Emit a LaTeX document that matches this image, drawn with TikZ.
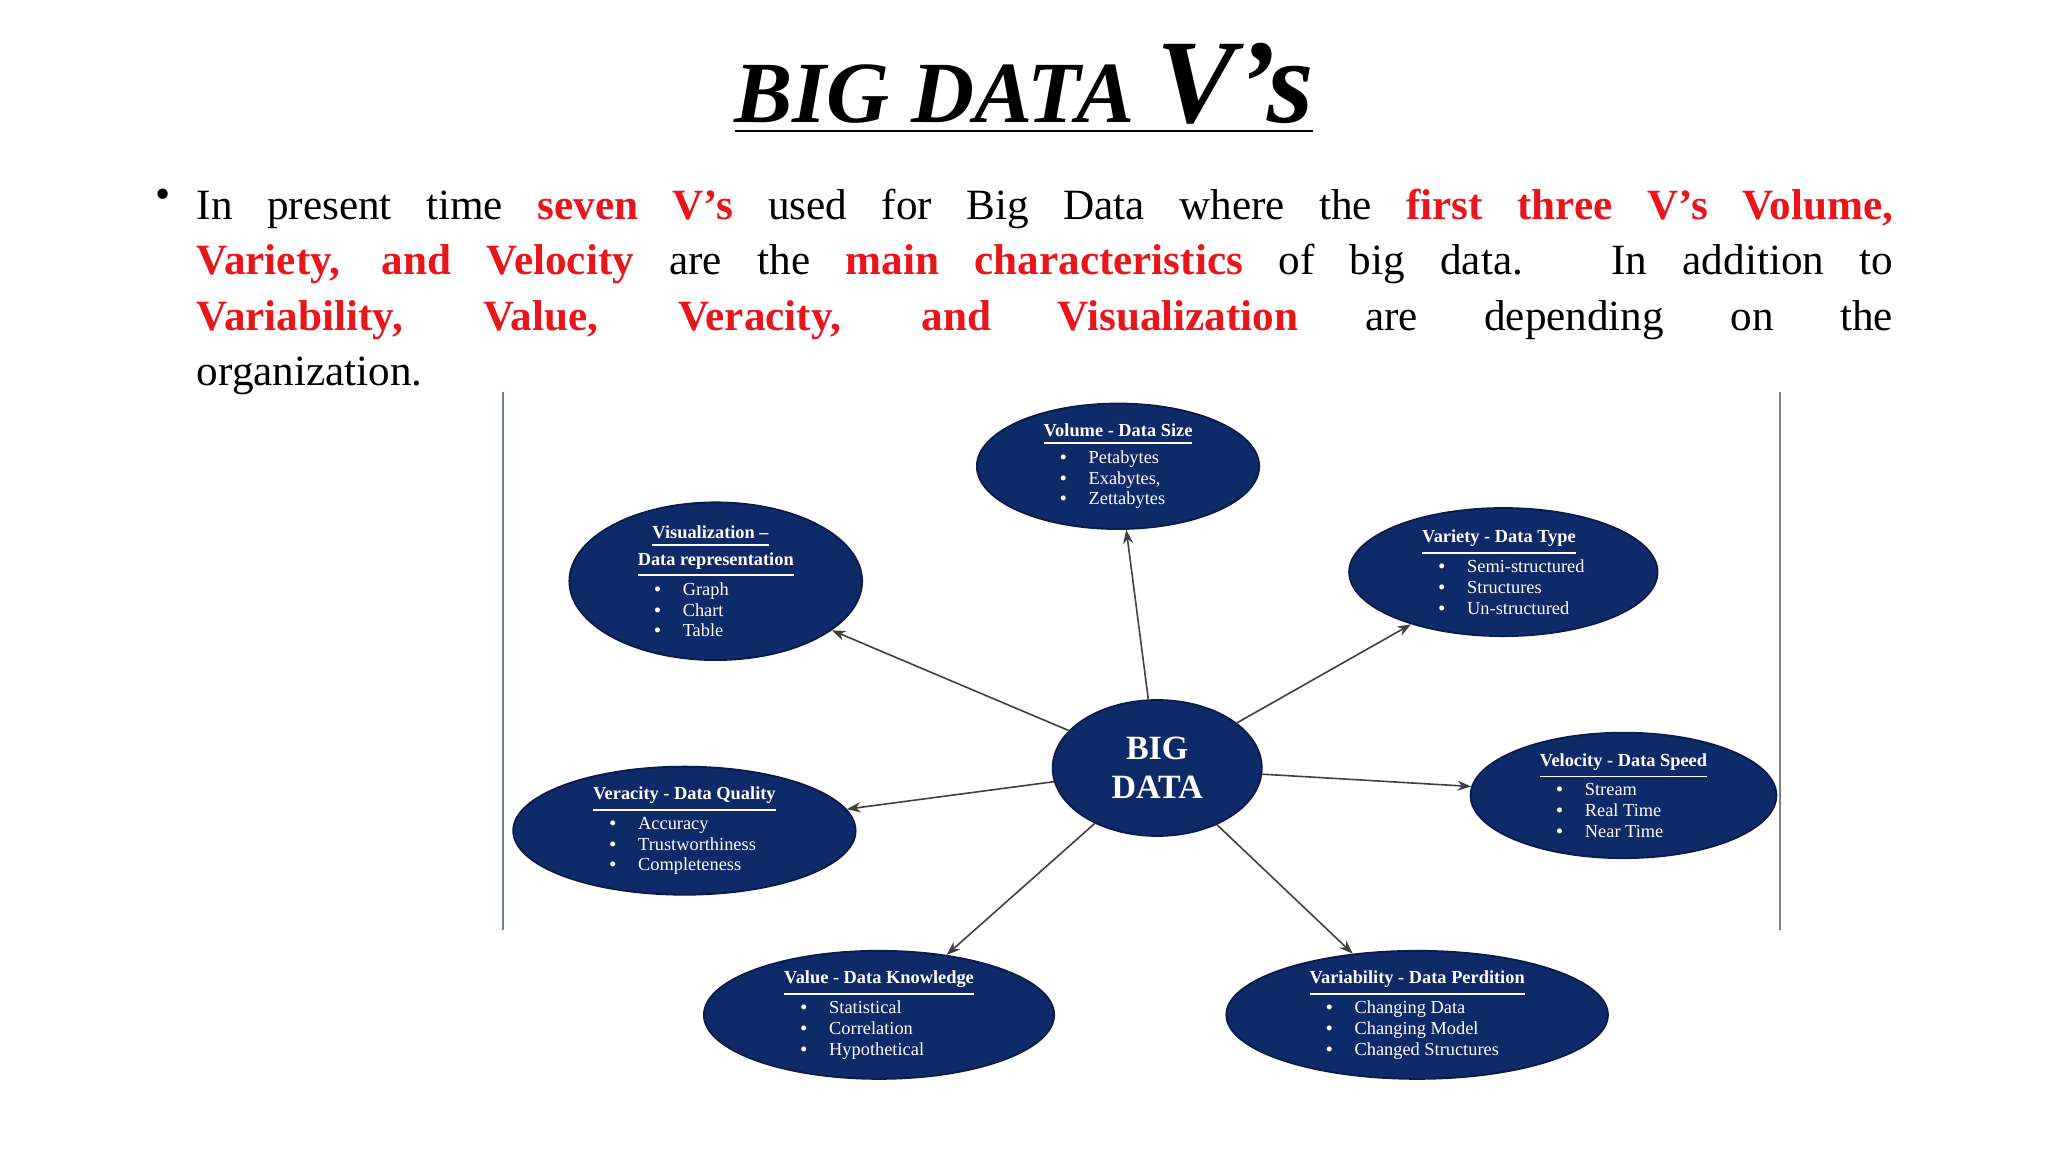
\documentclass[tikz,border=0pt]{standalone}
\usepackage{fontspec}
\setmainfont{Liberation Serif}
\usetikzlibrary{shapes.geometric,arrows.meta}
\definecolor{navy}{HTML}{0F2A68}
\definecolor{vred}{HTML}{E8161B}
\tikzset{
  vell/.style={ellipse, fill=navy, draw=navy!70!black, text=white, inner sep=0pt,
    font=\fontsize{4}{4.5}\selectfont\bfseries, align=left},
  conn/.style={draw=black!75, line width=0.35pt, -{Stealth[length=3pt,width=2.2pt]}}
}
\newcommand{\hd}[1]{\underline{#1}}
\newcommand{\bl}[1]{\hspace*{0.9em}\textbullet\hspace{1.2em}\mdseries #1}
\newcommand{\rd}[1]{\textcolor{vred}{\textbf{#1}}}
\begin{document}
\begin{tikzpicture}[x=0.01cm,y=-0.01cm]
\useasboundingbox (0,0) rectangle (1568,882);
% title
\node[font=\fontsize{19}{22}\selectfont\bfseries\itshape] (title) at (784,68)
  {\underline{BIG DATA {\fontsize{26}{26}\selectfont V’s}}};
% paragraph
\node[anchor=north west, inner sep=0pt, font=\fontsize{9.4}{12.05}\selectfont, align=left] (par) at (150,144)
 {\makebox[12.98cm][s]{In present time \rd{seven V’s} used for Big Data where the \rd{first three V’s Volume,}}\\
  \makebox[12.98cm][s]{\rd{Variety, and Velocity} are the \rd{main characteristics} of big data. In addition to}\\
  \makebox[12.98cm][s]{\rd{Variability, Value, Veracity, and Visualization} are depending on the}\\
  organization.};
\node[anchor=north west, inner sep=0pt, font=\fontsize{9.4}{12}\selectfont] (bul) at (118,144) {\textbullet};
% frame lines
\draw[navy!60, line width=0.5pt] (385,300) coordinate (la) -- (385,712) coordinate (lb);
\draw[black!50, line width=0.5pt] (1363,300) coordinate (ra) -- (1363,712) coordinate (rb);
% ellipses
\node[vell, minimum width=1.6cm, minimum height=1.04cm, align=center,
  font=\fontsize{7.4}{8.4}\selectfont\bfseries] (bd) at (886,588) {BIG\\DATA};
\node[vell, minimum width=2.16cm, minimum height=0.96cm] (vol) at (856,357)
 {\hd{Volume - Data Size}\\\bl{Petabytes}\\\bl{Exabytes,}\\\bl{Zettabytes}};
\node[vell, minimum width=2.24cm, minimum height=1.12cm] (vis) at (548,445)
 {\hspace*{0.8em}\hd{Visualization --}\\\hd{Data representation}\\\bl{Graph}\\\bl{Chart}\\\bl{Table}};
\node[vell, minimum width=2.36cm, minimum height=0.98cm] (var) at (1151,438)
 {\hd{Variety - Data Type}\\\bl{Semi-structured}\\\bl{Structures}\\\bl{Un-structured}};
\node[vell, minimum width=2.34cm, minimum height=0.96cm] (vel) at (1243,609)
 {\hd{Velocity - Data Speed}\\\bl{Stream}\\\bl{Real Time}\\\bl{Near Time}};
\node[vell, minimum width=2.62cm, minimum height=0.98cm] (ver) at (524,636)
 {\hd{Veracity - Data Quality}\\\bl{Accuracy}\\\bl{Trustworthiness}\\\bl{Completeness}};
\node[vell, minimum width=2.68cm, minimum height=0.98cm] (val) at (673,777)
 {\hd{Value - Data Knowledge}\\\bl{Statistical}\\\bl{Correlation}\\\bl{Hypothetical}};
\node[vell, minimum width=2.92cm, minimum height=0.98cm] (vab) at (1085,777)
 {\hd{Variability - Data Perdition}\\\bl{Changing Data}\\\bl{Changing Model}\\\bl{Changed Structures}};
% connectors
\draw[conn] (bd) -- (vol);
\draw[conn] (bd) -- (vis);
\draw[conn] (bd) -- (var);
\draw[conn] (bd) -- (vel);
\draw[conn] (bd) -- (ver);
\draw[conn] (bd) -- (val);
\draw[conn] (bd) -- (vab);
\end{tikzpicture}
\end{document}
